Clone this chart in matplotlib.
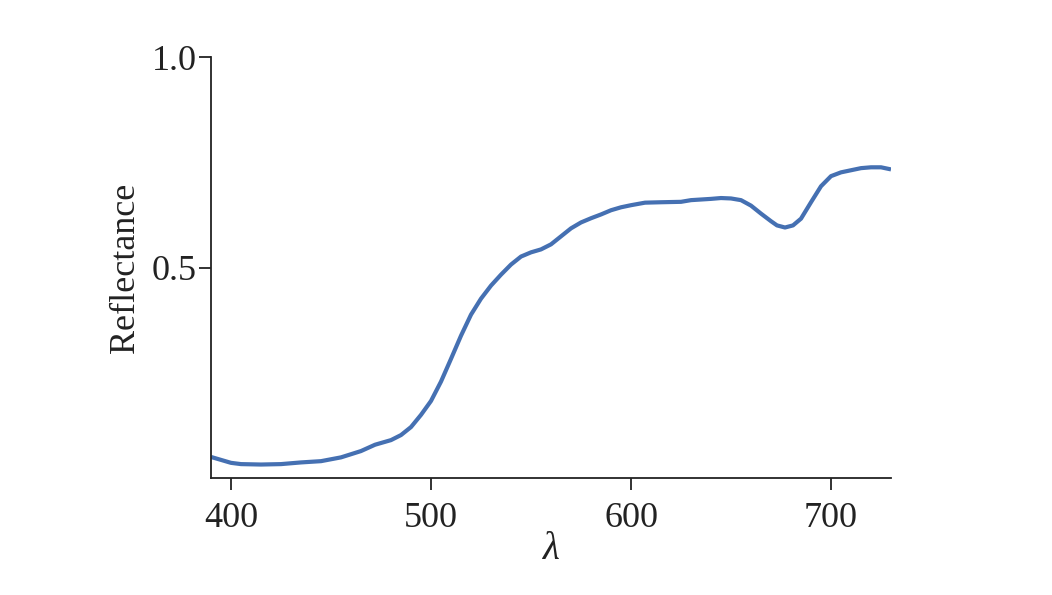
import matplotlib
matplotlib.use("Agg")
import matplotlib.pyplot as plt

wavelength = [390, 395, 400, 405, 415, 425, 435, 445, 455, 465, 472, 480, 485, 490, 495,
              500, 505, 510, 515, 520, 525, 530, 535, 540, 545, 550, 555, 560, 565, 570,
              575, 580, 585, 590, 595, 600, 607, 615, 625, 630, 640, 645, 650, 655, 660,
              665, 670, 673, 677, 681, 685, 690, 695, 700, 705, 710, 715, 720, 725, 730]
reflectance = [0.050, 0.043, 0.036, 0.033, 0.032, 0.033, 0.037, 0.040, 0.049, 0.064, 0.079,
               0.090, 0.102, 0.121, 0.150, 0.183, 0.229, 0.283, 0.338, 0.388, 0.426, 0.457,
               0.483, 0.507, 0.526, 0.536, 0.543, 0.555, 0.574, 0.593, 0.607, 0.617, 0.626,
               0.636, 0.643, 0.648, 0.654, 0.655, 0.656, 0.660, 0.663, 0.665, 0.664, 0.660,
               0.647, 0.628, 0.610, 0.600, 0.595, 0.600, 0.616, 0.655, 0.693, 0.717, 0.726,
               0.731, 0.736, 0.738, 0.738, 0.733]
xticks = [400, 500, 600, 700]
yticks = [0.5, 1.0]
ytick_labels = ["0.5", "1.0"]

plt.rcParams['font.family'] = ['Liberation Serif', 'DejaVu Serif']

fig = plt.figure(figsize=(10.52, 5.95), dpi=100)
ax = fig.add_axes([211/1052, 1-478/595, (891-211)/1052, (478-57)/595])
ax.plot(wavelength, reflectance, color='#4570b2', lw=3.0, solid_capstyle='butt',
        solid_joinstyle='round')
ax.set_xlim(390, 730)
ax.set_ylim(0, 1.0)
ax.set_xticks(xticks)
ax.set_yticks(yticks)
ax.set_yticklabels(ytick_labels)
for s in ['top', 'right']:
    ax.spines[s].set_visible(False)
for s in ['left', 'bottom']:
    ax.spines[s].set_linewidth(1.3)
    ax.spines[s].set_color('#222222')
ax.tick_params(direction='out', length=8.5, width=1.3, colors='#222222', labelsize=26)
ax.tick_params(axis='x', pad=9)
ax.tick_params(axis='y', pad=2)
ax.set_ylabel('Reflectance', fontsize=26, color='#222222', labelpad=7)
ax.set_xlabel('λ', fontsize=28, color='#222222', fontstyle='italic', labelpad=-3)
fig.savefig('out.png', dpi=100)
